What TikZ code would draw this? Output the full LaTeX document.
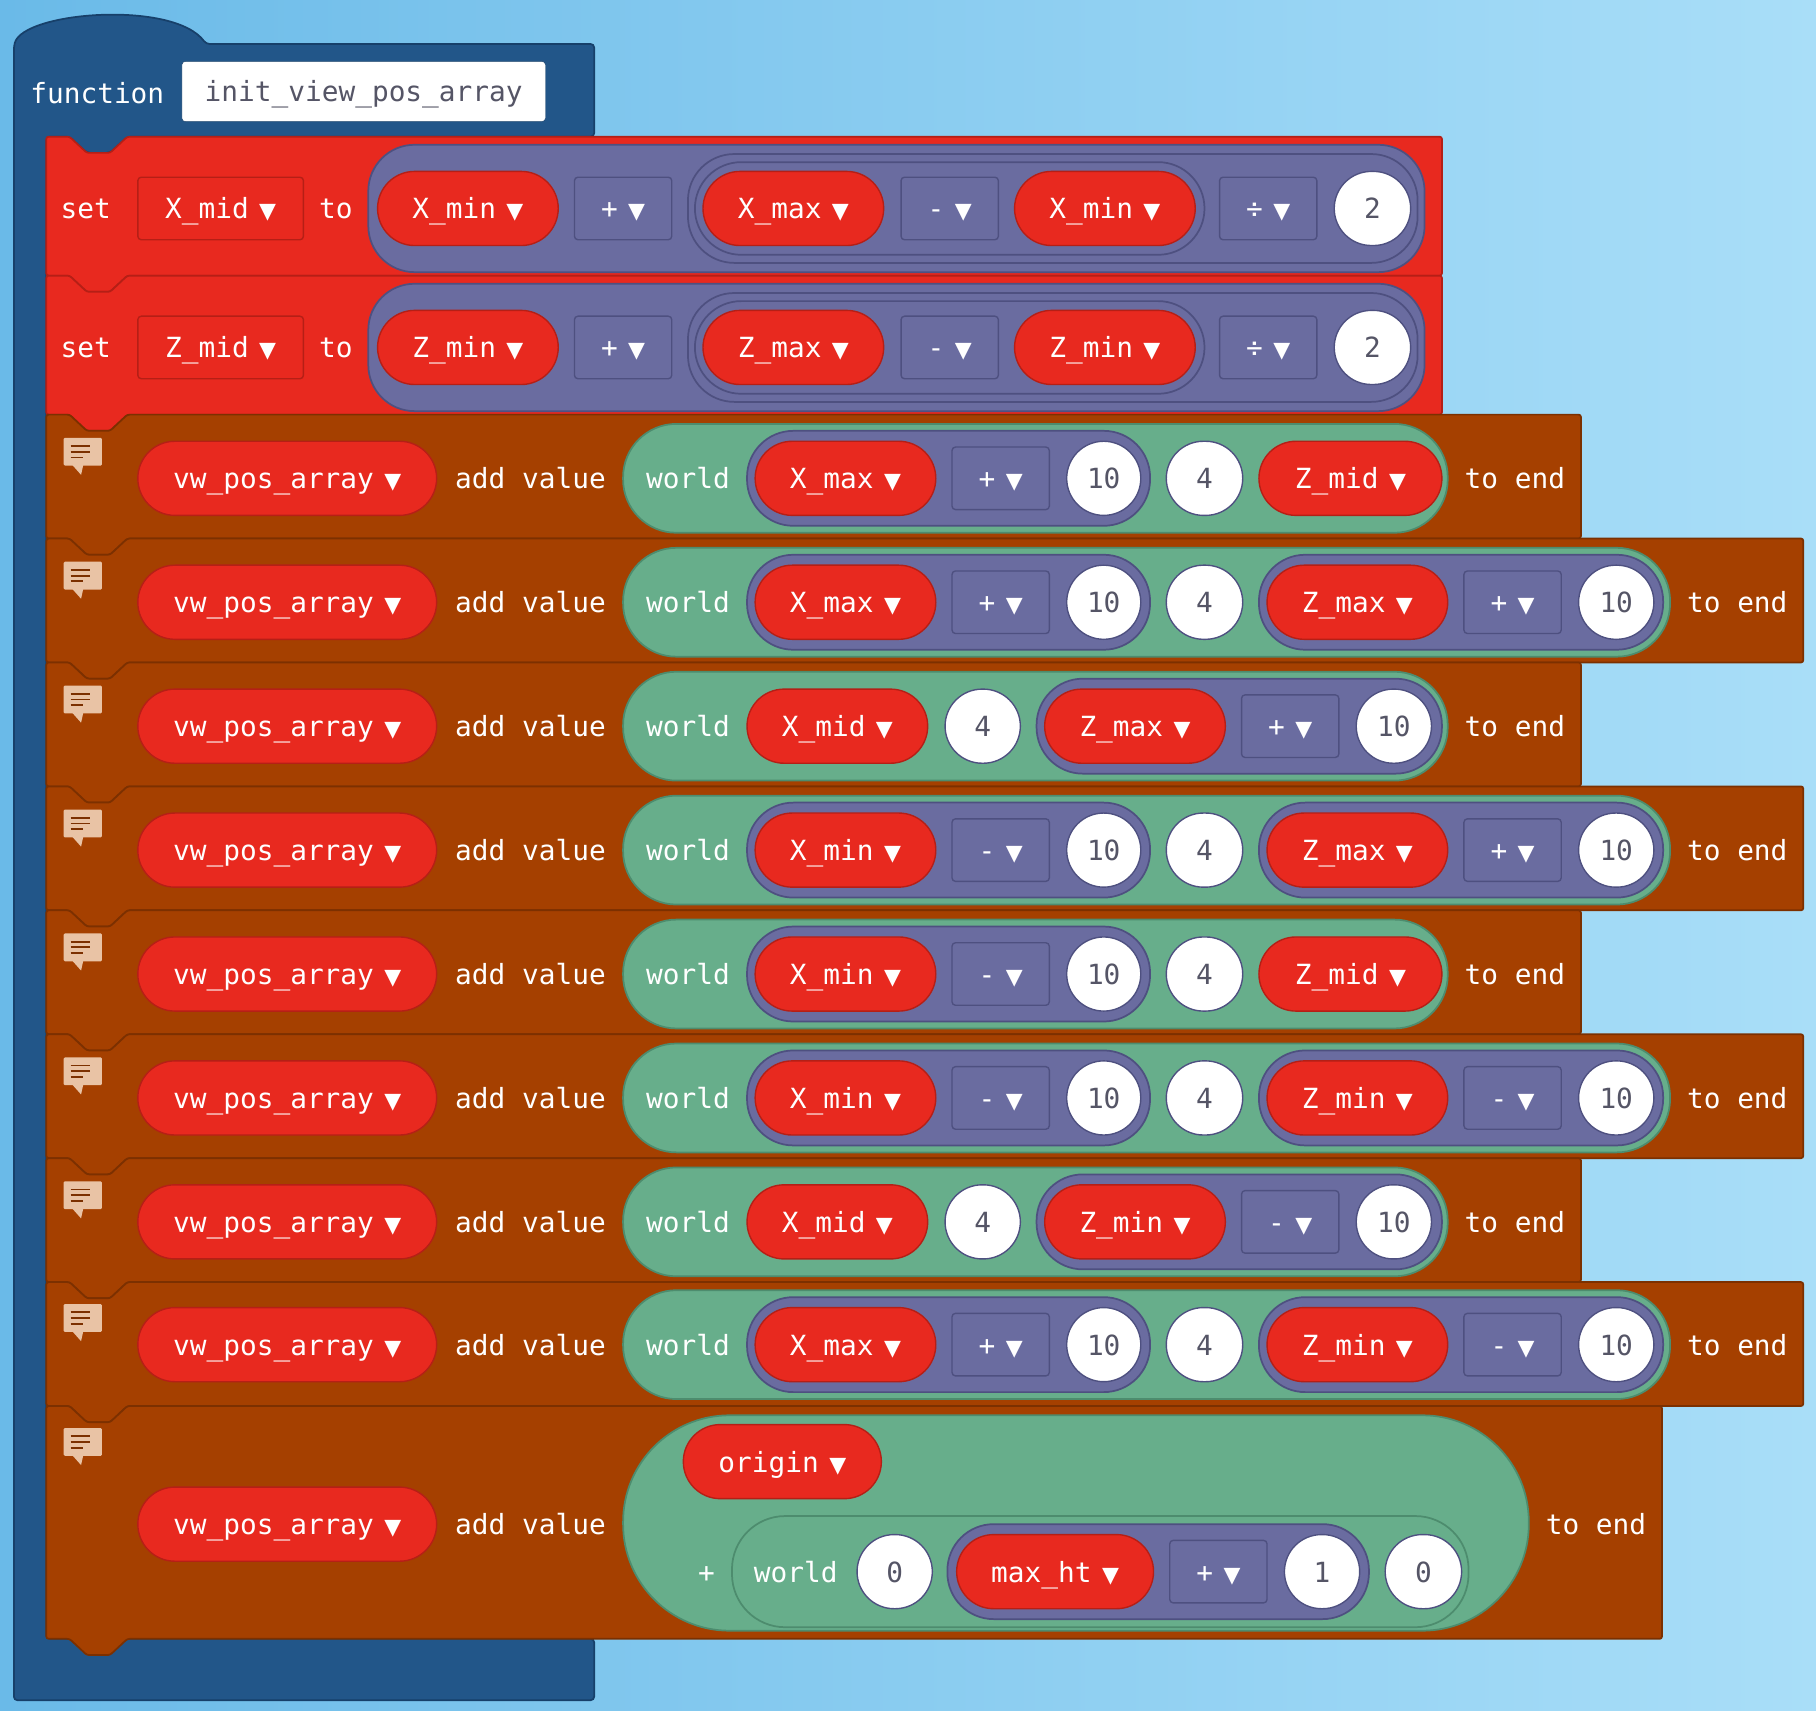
\documentclass[tikz,border=0pt]{standalone}
\usepackage{fontspec}
\setmainfont{DejaVu Sans Mono}
\newfontfamily\arrfont{DejaVu Sans}
\definecolor{bgA}{HTML}{6ABAE8}
\definecolor{bgB}{HTML}{A9DEF8}
\definecolor{fnC}{HTML}{225689}
\definecolor{fnB}{HTML}{17406A}
\definecolor{setC}{HTML}{E8291F}
\definecolor{setB}{HTML}{B51F16}
\definecolor{brC}{HTML}{A54000}
\definecolor{brB}{HTML}{7C3000}
\definecolor{puC}{HTML}{6A6CA0}
\definecolor{puB}{HTML}{4E5080}
\definecolor{grC}{HTML}{67AE8B}
\definecolor{grB}{HTML}{4D8C6E}
\definecolor{wtxt}{HTML}{555566}
\definecolor{cmt}{HTML}{E9C3A5}
\newcounter{bc}
\newcommand\fs{\fontsize{24}{28}\selectfont}
\newcommand\arr{\hspace{9pt}{\arrfont\fontsize{19}{19}\selectfont ▼}}
\tikzset{
 base/.style={inner sep=0pt,font=\fs,text=white,text height=20pt,text depth=2pt},
 redpill/.style={base,fill=setC,draw=setB,line width=1.2pt,minimum height=64pt,rounded corners=32pt},
 varbox/.style={base,fill=setC,draw=setB,line width=1.2pt,minimum height=54pt,rounded corners=3pt},
 ddbox/.style={base,fill=puC,draw=puB,line width=1.2pt,minimum height=54pt,rounded corners=3pt},
 whitepill/.style={base,fill=white,draw=puB,line width=1.2pt,minimum height=64pt,rounded corners=32pt,text=wtxt},
 purplepill/.style={base,fill=puC,draw=puB,line width=1.5pt,rounded corners=40pt},
 greenpill/.style={base,fill=grC,draw=grB,line width=1.5pt,rounded corners=46pt},
 txt/.style={base},
}
\newcommand\nd[5]{\stepcounter{bc}\node[#1,minimum width={(#3-#2)*1pt}] (b\arabic{bc}) at ({(#2+#3)/2},#4) {#5};}
\newcommand\rp[4]{\nd{redpill}{#1}{#2}{#3}{#4\arr}}
\newcommand\dd[4]{\nd{ddbox}{#1}{#2}{#3}{#4\arr}}
\newcommand\whp[4]{\nd{whitepill}{#1}{#2}{#3}{#4}}
\newcommand\pp[4]{\stepcounter{bc}\node[purplepill,minimum width={(#2-#1)*1pt},minimum height={2*#4*1pt}] (b\arabic{bc}) at ({(#1+#2)/2},#3) {};}
\newcommand\gp[4]{\stepcounter{bc}\node[greenpill,minimum width={(#2-#1)*1pt},minimum height={2*#4*1pt}] (b\arabic{bc}) at ({(#1+#2)/2},#3) {};}
\newcommand\tx[3]{\stepcounter{bc}\node[txt] (b\arabic{bc}) at (#1,#2) {#3};}
\newcommand\blk[5]{\draw[fill=#1,draw=#2,line width=1.5pt,rounded corners=2pt] (40,#3) -- (60,#3) -- (75,{#3+14}) -- (95,{#3+14}) -- (110,#3) -- (#5,#3) -- (#5,#4) -- (110,#4) -- (95,{#4+14}) -- (75,{#4+14}) -- (60,#4) -- (40,#4) -- cycle;}
\newcommand\cmticon[1]{\fill[cmt,rounded corners=1pt] (55,{#1-12}) rectangle (88,{#1+12});
 \fill[cmt] (62,{#1+11}) -- (70,{#1+20}) -- (72,{#1+11}) -- cycle;
 \foreach \dy/\w in {-5/78,0/78,5/72}{\draw[brB,line width=1.6pt] (61,{#1+\dy}) -- (\w,{#1+\dy});}}
\newcommand\common[1]{\cmticon{#1-23}\rp{119}{377}{#1}{vw\_pos\_array}\tx{458}{#1}{add value}}
\newcommand\rowA[4]{\common{#1}\gp{538}{1250}{#1}{47}\tx{594}{#1}{world}\pp{645}{993}{#1}{41}%
 \rp{652}{808}{#1}{#2}\dd{822}{906}{#1}{#3}\whp{921}{985}{#1}{10}\whp{1007}{1073}{#1}{4}%
 \rp{1087}{1245}{#1}{#4}\tx{1308}{#1}{to end}}
\newcommand\rowB[5]{\common{#1}\gp{538}{1442}{#1}{47}\tx{594}{#1}{world}\pp{645}{993}{#1}{41}%
 \rp{652}{808}{#1}{#2}\dd{822}{906}{#1}{#3}\whp{921}{985}{#1}{10}\whp{1007}{1073}{#1}{4}%
 \pp{1087}{1436}{#1}{41}\rp{1094}{1250}{#1}{#4}\dd{1264}{1348}{#1}{#5}\whp{1363}{1428}{#1}{10}\tx{1500}{#1}{to end}}
\newcommand\rowC[3]{\common{#1}\gp{538}{1250}{#1}{47}\tx{594}{#1}{world}\rp{645}{801}{#1}{X\_mid}%
 \whp{816}{881}{#1}{4}\pp{895}{1245}{#1}{41}\rp{902}{1058}{#1}{#2}\dd{1072}{1156}{#1}{#3}%
 \whp{1171}{1236}{#1}{10}\tx{1308}{#1}{to end}}
\newcommand\setrow[4]{\tx{74}{#1}{set}\nd{varbox}{119}{262}{#1}{#2\arr}\tx{290}{#1}{to}%
 \pp{318}{1230}{#1}{55}\rp{326}{482}{#1}{#3}\dd{496}{580}{#1}{+}\pp{594}{1224}{#1}{47}\pp{600}{1040}{#1}{40}%
 \rp{607}{763}{#1}{#4}\dd{778}{862}{#1}{-}\rp{876}{1032}{#1}{#3}\dd{1053}{1137}{#1}{÷}\whp{1152}{1218}{#1}{2}}
\begin{document}
\begin{tikzpicture}[x=1pt,y=-1pt]
\useasboundingbox (0,0) rectangle (1568,1477);
\shade[left color=bgA,right color=bgB] (0,0) rectangle (1568,1477);
% function block
\draw[fill=fnC,draw=fnB,line width=1.5pt,rounded corners=3pt] (12,1468) -- (12,40) .. controls (20,10) and (150,0) .. (178,38) -- (513,38) -- (513,118) -- (110,118) -- (95,132) -- (75,132) -- (60,118) -- (40,118) -- (40,1415) -- (513,1415) -- (513,1468) -- cycle;
\tx{84}{80}{function}
\stepcounter{bc}\node[base,fill=white,draw=fnB,text=wtxt,minimum width=314pt,minimum height=52pt,rounded corners=3pt] (b\arabic{bc}) at (314,79) {init\_view\_pos\_array};
% blocks
\blk{setC}{setB}{118}{238}{1245}
\blk{setC}{setB}{238}{358}{1245}
\blk{brC}{brB}{358}{465}{1365}
\blk{brC}{brB}{465}{572}{1557}
\blk{brC}{brB}{572}{679}{1365}
\blk{brC}{brB}{679}{786}{1557}
\blk{brC}{brB}{786}{893}{1365}
\blk{brC}{brB}{893}{1000}{1557}
\blk{brC}{brB}{1000}{1107}{1365}
\blk{brC}{brB}{1107}{1214}{1557}
\blk{brC}{brB}{1214}{1415}{1435}
\setrow{180}{X\_mid}{X\_min}{X\_max}
\setrow{300}{Z\_mid}{Z\_min}{Z\_max}
\rowA{413}{X\_max}{+}{Z\_mid}
\rowB{520}{X\_max}{+}{Z\_max}{+}
\rowC{627}{Z\_max}{+}
\rowB{734}{X\_min}{-}{Z\_max}{+}
\rowA{841}{X\_min}{-}{Z\_mid}
\rowB{948}{X\_min}{-}{Z\_min}{-}
\rowC{1055}{Z\_min}{-}
\rowB{1161}{X\_max}{+}{Z\_min}{-}
% last row
\cmticon{1245}
\rp{119}{377}{1316}{vw\_pos\_array}\tx{458}{1316}{add value}
\stepcounter{bc}\node[greenpill,rounded corners=92pt,minimum width=782pt,minimum height=186pt] (b\arabic{bc}) at (929,1315) {};
\rp{590}{761}{1262}{origin}
\tx{610}{1357}{+}
\gp{632}{1268}{1357}{48}
\tx{687}{1357}{world}
\whp{740}{805}{1357}{0}
\pp{818}{1182}{1357}{41}
\rp{826}{996}{1357}{max\_ht}
\dd{1010}{1094}{1357}{+}
\whp{1109}{1174}{1357}{1}
\whp{1196}{1262}{1357}{0}
\tx{1378}{1316}{to end}
\end{tikzpicture}
\end{document}
